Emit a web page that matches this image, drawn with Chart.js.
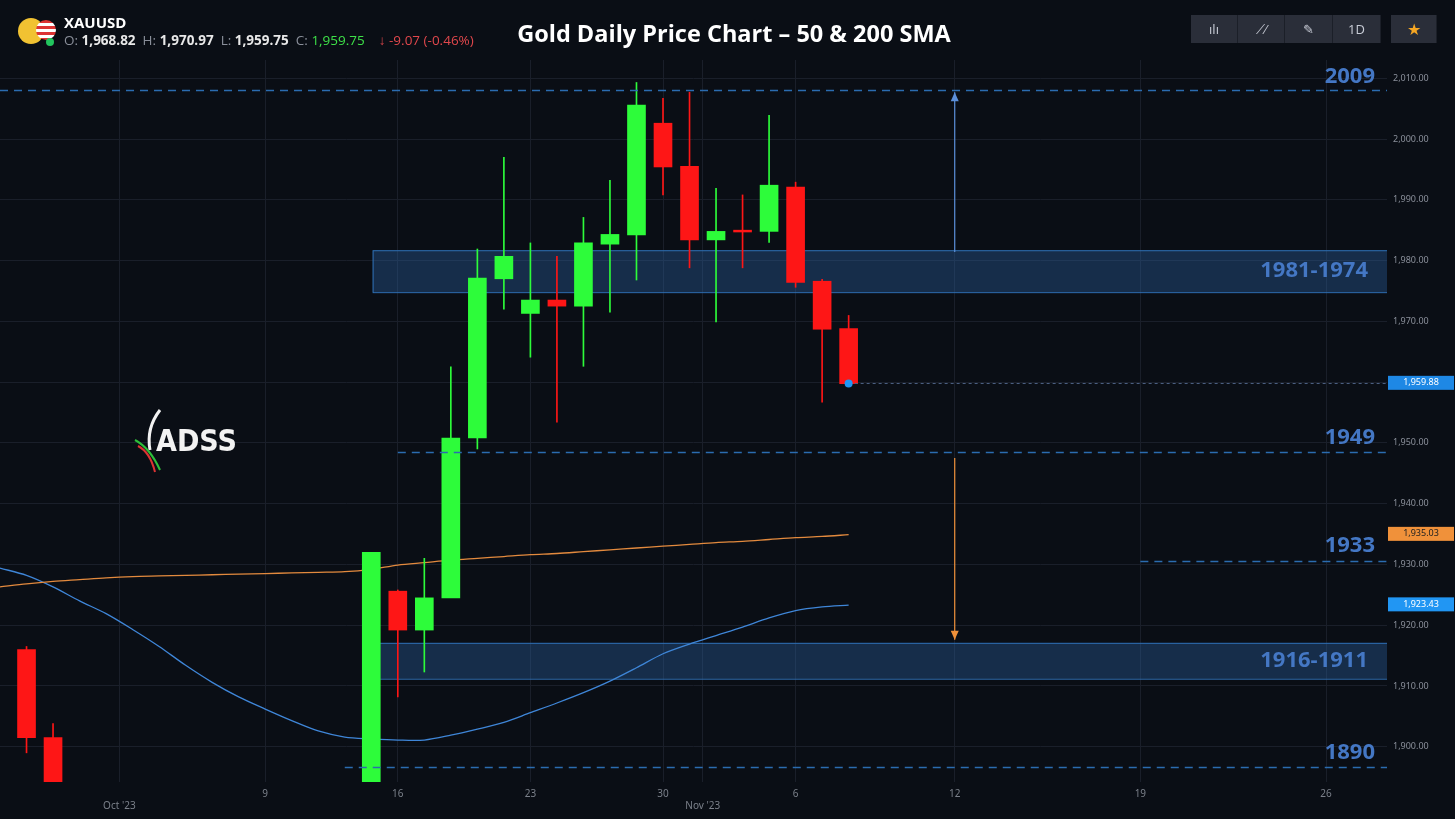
<!DOCTYPE html>
<html><head><meta charset="utf-8">
<script src="https://cdn.jsdelivr.net/npm/chart.js@4.4.0/dist/chart.umd.min.js"></script>
<style>
html,body{margin:0;padding:0;background:#0a0e15;width:1455px;height:819px;overflow:hidden;font-family:"Open Sans",Roboto,sans-serif}
#wrap{position:absolute;left:0;top:0;width:1455px;height:819px}
.hdr{position:absolute;color:#fff}
.btn{position:absolute;top:15px;height:28px;background:#2a2e39;color:#c8ccd6;font-size:13px;display:flex;align-items:center;justify-content:center;border-right:1px solid #1b1f28}
</style></head><body>
<div id="wrap"><canvas id="c" width="1455" height="819"></canvas></div>
<div class="hdr" style="left:18px;top:18px;width:26px;height:26px;border-radius:50%;background:#f1c232"></div>
<div class="hdr" style="left:36px;top:20px;width:20px;height:20px;border-radius:50%;background:repeating-linear-gradient(#d33 0 3px,#fff 3px 6px)"></div>
<div class="hdr" style="left:46px;top:38px;width:8px;height:8px;border-radius:50%;background:#22c55e"></div>
<div class="hdr" style="left:64px;top:12px;font-size:15px;font-weight:bold">XAUUSD</div>
<div class="hdr" style="left:64px;top:31px;font-size:13.5px;white-space:nowrap;color:#e8e8e8"><span style="color:#8a8f9a">O:</span> <b>1,968.82</b>&nbsp; <span style="color:#8a8f9a">H:</span> <b>1,970.97</b>&nbsp; <span style="color:#8a8f9a">L:</span> <b>1,959.75</b>&nbsp; <span style="color:#8a8f9a">C:</span> <span style="color:#3ee048">1,959.75</span>&nbsp;&nbsp;&nbsp; <span style="color:#e0474c">↓ -9.07 (-0.46%)</span></div>
<div class="hdr" style="left:434px;top:17px;width:600px;text-align:center;font-size:23.5px;font-weight:bold;font-family:'Open Sans'">Gold Daily Price Chart – 50 &amp; 200 SMA</div>
<div class="btn" style="left:1191px;width:46px">ılı</div>
<div class="btn" style="left:1238px;width:46px">⟋⁄</div>
<div class="btn" style="left:1285px;width:47px">✎</div>
<div class="btn" style="left:1333px;width:47px">1D</div>
<div class="btn" style="left:1391px;width:45px;color:#f5a623;font-size:16px">★</div>
<script>
const idx   = [-14,-13,-1,0,1,2,3,4,5,6,7,8,9,10,11,12,13,14,15,16,17];
const opens = [1916,1901.5,1880,1925.6,1919.2,1924.5,1950.8,1977,1971.3,1973.5,1972.5,1982.7,1984.2,2002.6,1995.5,1983.4,1985.0,1984.8,1992.1,1976.6,1968.82];
const highs = [1916.5,1903.8,1932.0,1925.8,1931.0,1962.5,1981.9,1997.0,1982.9,1980.7,1987.1,1993.2,2009.3,2006.7,2007.7,1991.9,1990.8,2003.9,1992.9,1976.9,1970.97];
const lows  = [1899,1880,1878,1908.2,1912.3,1945,1949,1972.0,1964.1,1953.4,1962.6,1971.5,1976.8,1990.8,1978.8,1969.9,1978.8,1983.0,1975.6,1956.7,1959.75];
const closes= [1901.5,1885,1932.0,1919.2,1924.5,1950.8,1977.1,1980.7,1973.5,1972.5,1982.9,1984.3,2005.6,1995.4,1983.4,1984.8,1984.7,1992.4,1976.4,1968.7,1959.75];
const smaIdx = [-15,-14,-13,-12,-11,-10,-9,-8,-7,-6,-5,-4,-3,-2,-1,0,1,2,3,4,5,6,7,8,9,10,11,12,13,14,15,16,17];
const sma50  = [1929.4,1928.2,1926.3,1924.0,1921.9,1919.3,1916.5,1913.4,1910.6,1908.2,1906.2,1904.3,1902.6,1901.6,1901.3,1901.1,1901.1,1901.9,1902.9,1904.0,1905.6,1907.2,1908.9,1910.8,1913.0,1915.3,1916.9,1918.3,1919.7,1921.2,1922.4,1923.0,1923.3];
const sma200 = [1926.3,1926.8,1927.2,1927.5,1927.8,1928.0,1928.1,1928.2,1928.3,1928.4,1928.5,1928.6,1928.7,1928.8,1929.2,1929.9,1930.3,1930.7,1931.0,1931.3,1931.6,1931.8,1932.1,1932.4,1932.7,1933.0,1933.3,1933.6,1933.8,1934.1,1934.4,1934.6,1934.9];
const tickPos = [-10.5,-5,0,5,10,11.5,15,21,28,35];
const tickLabels = [["","Oct '23"],"9","16","23","30",["","Nov '23"],"6","12","19","26"];
const levels = [
 {y:2008.0,x0:-15,label:"2009",ly:2010.2},
 {y:1948.5,x0:0,label:"1949",ly:1950.8},
 {y:1930.6,x0:28,label:"1933",ly:1933.0},
 {y:1896.7,x0:-2,label:"1890",ly:1899.0}];
const zones = [{hi:1981.7,lo:1974.8,label:"1981-1974"},{hi:1917.1,lo:1911.2,label:"1916-1911"}];
const last = 1959.88, lastSma200 = 1935.03, lastSma50 = 1923.43;

const G='#2dfc3a', R='#fe1616';
const col = idx.map((_,i)=> closes[i]>=opens[i]?G:R);
const bodies = idx.map((x,i)=>({x, y:[opens[i], Math.abs(closes[i]-opens[i])<0.3?opens[i]-0.3:closes[i]]}));
const wicks = idx.map((x,i)=>({x, y:[lows[i],highs[i]]}));

const overlay = {
 id:'ov',
 beforeDatasetsDraw(ch){
  const {ctx,chartArea:a,scales:{x,y}}=ch;
  ctx.save();
  ctx.beginPath();ctx.rect(a.left,a.top,a.right-a.left,a.bottom-a.top);ctx.clip();
  zones.forEach(z=>{
   const x0=x.getPixelForValue(-0.95), y0=y.getPixelForValue(z.hi), y1=y.getPixelForValue(z.lo);
   ctx.fillStyle='rgba(41,98,160,0.38)';ctx.fillRect(x0,y0,a.right-x0,y1-y0);
   ctx.strokeStyle='#2f6fb3';ctx.lineWidth=1;ctx.strokeRect(x0+.5,y0+.5,a.right-x0,y1-y0);
  });
  ctx.restore();
 },
 afterDatasetsDraw(ch){
  const {ctx,chartArea:a,scales:{x,y}}=ch;
  ctx.save();
  ctx.setLineDash([8,6]);ctx.strokeStyle='#2b6cb0';ctx.lineWidth=1.5;
  levels.forEach(l=>{const py=Math.round(y.getPixelForValue(l.y))+.5;ctx.beginPath();ctx.moveTo(Math.max(a.left,x.getPixelForValue(l.x0)),py);ctx.lineTo(a.right,py);ctx.stroke();});
  ctx.setLineDash([3,3]);ctx.lineWidth=1;ctx.strokeStyle='#4a5e80';
  let py=Math.round(y.getPixelForValue(last))+.5;ctx.beginPath();ctx.moveTo(x.getPixelForValue(17),py);ctx.lineTo(a.right,py);ctx.stroke();
  ctx.setLineDash([]);
  ctx.fillStyle='#2196f3';ctx.beginPath();ctx.arc(x.getPixelForValue(17),py,4,0,Math.PI*2);ctx.fill();
  const ax=x.getPixelForValue(21);
  const arrow=(y0,y1,c)=>{const p0=y.getPixelForValue(y0),p1=y.getPixelForValue(y1);ctx.strokeStyle=c;ctx.fillStyle=c;ctx.lineWidth=1.2;ctx.beginPath();ctx.moveTo(ax,p0);ctx.lineTo(ax,p1);ctx.stroke();const d=p1<p0?1:-1;ctx.beginPath();ctx.moveTo(ax,p1);ctx.lineTo(ax-4,p1+d*9);ctx.lineTo(ax+4,p1+d*9);ctx.closePath();ctx.fill();};
  arrow(1981.4,2007.7,'#5b8fd9');arrow(1947.5,1917.6,'#f0913a');
  ctx.font='bold 22px "Open Sans"';ctx.fillStyle='#4477c4';ctx.textAlign='right';ctx.textBaseline='middle';
  levels.forEach(l=>ctx.fillText(l.label,1375,y.getPixelForValue(l.ly)));
  zones.forEach(z=>ctx.fillText(z.label,1368,y.getPixelForValue((z.hi+z.lo)/2)));
  // logo
  ctx.font='bold 30px "DejaVu Sans Condensed", sans-serif';ctx.fillStyle='#f2f2f2';ctx.textAlign='left';
  ctx.fillText('ADSS',156,443);
  ctx.strokeStyle='#f2f2f2';ctx.lineWidth=3;ctx.beginPath();ctx.moveTo(160,410);ctx.quadraticCurveTo(146,428,150,450);ctx.stroke();
  ctx.strokeStyle='#2dbf3a';ctx.lineWidth=2;ctx.beginPath();ctx.moveTo(135,440);ctx.quadraticCurveTo(150,448,160,470);ctx.stroke();
  ctx.strokeStyle='#d33';ctx.beginPath();ctx.moveTo(138,446);ctx.quadraticCurveTo(150,452,155,472);ctx.stroke();
  const tag=(v,c,t)=>{const p=y.getPixelForValue(v);ctx.fillStyle=c;ctx.fillRect(a.right+1,p-7,66,14);ctx.fillStyle=t;ctx.font='9px "Noto Sans"';ctx.textAlign='center';ctx.fillText(v.toLocaleString('en-US',{minimumFractionDigits:2}),a.right+34,p);};
  tag(last,'#1e88e5','#fff');tag(lastSma200,'#f0913a','#222');tag(lastSma50,'#2196f3','#fff');
  ctx.restore();
 }
};

new Chart(document.getElementById('c'),{
 data:{datasets:[
  {type:'line',data:smaIdx.map((x,i)=>({x,y:sma200[i]})),borderColor:'#e38a3e',borderWidth:1.3,pointRadius:0,tension:0.3,order:3},
  {type:'line',data:smaIdx.map((x,i)=>({x,y:sma50[i]})),borderColor:'#3f86d8',borderWidth:1.3,pointRadius:0,tension:0.3,order:3},
  {type:'bar',data:wicks,backgroundColor:col,barThickness:1,grouped:false,order:2},
  {type:'bar',data:bodies,backgroundColor:col,barThickness:18,grouped:false,order:1}
 ]},
 options:{responsive:false,animation:false,
  layout:{padding:{top:60,left:0,right:0,bottom:0}},
  plugins:{legend:{display:false},tooltip:{enabled:false}},
  scales:{
   x:{type:'linear',min:-15.0,max:37.3,offset:false,
     afterBuildTicks:s=>{s.ticks=tickPos.map(v=>({value:v}));},
     afterFit:s=>{s.height=37;},
     ticks:{autoSkip:false,maxRotation:0,color:'#7b808a',font:{size:10,family:'Noto Sans'},padding:6,callback:(v,i)=>tickLabels[i]},
     grid:{color:'#1a1f2a',drawTicks:false,offset:false},border:{display:false}},
   y:{position:'right',min:1894.2,max:2013,
     afterBuildTicks:s=>{const t=[];for(let v=1900;v<=2010;v+=10)t.push({value:v});s.ticks=t;},
     afterFit:s=>{s.width=68;},
     ticks:{color:'#8a8f9a',font:{size:9,family:'Noto Sans'},padding:6,callback:v=>v.toLocaleString('en-US',{minimumFractionDigits:2})},
     grid:{color:'#1a1f2a',drawTicks:false},border:{display:false}}
  }},
 plugins:[overlay]
});
</script>
</body></html>
